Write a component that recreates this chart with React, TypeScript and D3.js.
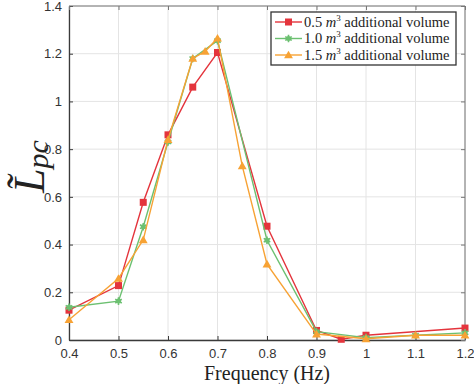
import React, { useRef, useEffect } from 'react';
import * as d3 from 'd3';

// values
const redX = [0.4, 0.5, 0.55, 0.6, 0.65, 0.7, 0.8, 0.9, 0.95, 1.0, 1.2];
const redY = [0.125, 0.228, 0.577, 0.86, 1.06, 1.205, 0.477, 0.04, 0.003, 0.02, 0.05];
const greenX = [0.4, 0.5, 0.55, 0.6, 0.65, 0.7, 0.8, 0.9, 1.0, 1.1, 1.2];
const greenY = [0.137, 0.163, 0.475, 0.83, 1.18, 1.255, 0.418, 0.035, 0.01, 0.02, 0.03];
const orangeX = [0.4, 0.5, 0.55, 0.6, 0.65, 0.675, 0.7, 0.75, 0.8, 0.9, 1.0, 1.1, 1.2];
const orangeY = [0.085, 0.258, 0.42, 0.84, 1.18, 1.21, 1.265, 0.73, 0.318, 0.025, 0.005, 0.02, 0.02];
const legendLabels = ['0.5', '1.0', '1.5'];
const xTicks = [0.4, 0.5, 0.6, 0.7, 0.8, 0.9, 1, 1.1, 1.2];
const yTicks = [0, 0.2, 0.4, 0.6, 0.8, 1, 1.2, 1.4];

const SERIF = "'Liberation Serif', 'Times New Roman', Times, serif";

const App = () => {
  const svgRef = useRef<SVGSVGElement>(null);

  useEffect(() => {
    document.body.style.margin = '0';
    const W = 474, H = 384;
    const margin = { top: 6, right: 9, bottom: 44, left: 69 };
    const width = W - margin.left - margin.right;
    const height = H - margin.top - margin.bottom;

    const svg = d3.select(svgRef.current).attr('width', W).attr('height', H);
    svg.selectAll('*').remove();
    svg.append('rect').attr('width', W).attr('height', H).attr('fill', 'white');

    const g = svg.append('g').attr('transform', `translate(${margin.left},${margin.top})`);

    const x = d3.scaleLinear().domain([0.4, 1.2]).range([0, width]);
    const y = d3.scaleLinear().domain([0, 1.4]).range([height, 0]);

    // grid
    g.selectAll('.gx').data(xTicks).enter().append('line')
      .attr('x1', d => x(d)).attr('x2', d => x(d)).attr('y1', 0).attr('y2', height)
      .attr('stroke', '#e4e4e4').attr('stroke-width', 1);
    g.selectAll('.gy').data(yTicks).enter().append('line')
      .attr('y1', d => y(d)).attr('y2', d => y(d)).attr('x1', 0).attr('x2', width)
      .attr('stroke', '#e4e4e4').attr('stroke-width', 1);

    // axes
    const xAxis = d3.axisBottom(x).tickValues(xTicks).tickSizeInner(-4).tickSizeOuter(0)
      .tickPadding(9).tickFormat(d => String(+d));
    const yAxis = d3.axisLeft(y).tickValues(yTicks).tickSizeInner(-4).tickSizeOuter(0)
      .tickPadding(7).tickFormat(d => String(+d));
    const xa = g.append('g').attr('transform', `translate(0,${height})`).call(xAxis);
    const ya = g.append('g').call(yAxis);
    [xa, ya].forEach(a => {
      a.selectAll('path').attr('stroke', '#3a3a3a').attr('stroke-width', 1.3);
      a.selectAll('line').attr('stroke', '#3a3a3a');
      a.selectAll('text').attr('fill', '#333').attr('font-size', 13)
        .attr('font-family', '"Liberation Sans", Arial, sans-serif');
    });
    // top / right border
    g.append('line').attr('x1', 0).attr('x2', width).attr('y1', 0).attr('y2', 0)
      .attr('stroke', '#777').attr('stroke-width', 1);
    g.append('line').attr('x1', width).attr('x2', width).attr('y1', 0).attr('y2', height)
      .attr('stroke', '#777').attr('stroke-width', 1);
    const topT = g.append('g').call(d3.axisTop(x).tickValues(xTicks).tickSizeInner(-4).tickSizeOuter(0).tickFormat(() => ''));
    topT.select('path').remove();
    topT.selectAll('line').attr('stroke', '#777');
    const rightT = g.append('g').attr('transform', `translate(${width},0)`)
      .call(d3.axisRight(y).tickValues(yTicks).tickSizeInner(-4).tickSizeOuter(0).tickFormat(() => ''));
    rightT.select('path').remove();
    rightT.selectAll('line').attr('stroke', '#777');

    const series = [
      { xs: redX, ys: redY, color: '#e4343c', marker: 'square' },
      { xs: greenX, ys: greenY, color: '#6cc071', marker: 'star' },
      { xs: orangeX, ys: orangeY, color: '#f7a234', marker: 'triangle' },
    ];

    const line = d3.line<[number, number]>().x(d => x(d[0])).y(d => y(d[1]));

    const drawMarker = (sel: any, kind: string, color: string, cx: number, cy: number) => {
      if (kind === 'square') {
        sel.append('rect').attr('x', cx - 3.5).attr('y', cy - 3.5).attr('width', 7).attr('height', 7)
          .attr('fill', color);
      } else if (kind === 'triangle') {
        sel.append('path').attr('d', d3.symbol(d3.symbolTriangle, 34)())
          .attr('transform', `translate(${cx},${cy + 0.8})`).attr('fill', color);
      } else {
        sel.append('path').attr('d', d3.symbol(d3.symbolAsterisk, 40)())
          .attr('transform', `translate(${cx},${cy})`).attr('fill', 'none')
          .attr('stroke', color).attr('stroke-width', 1.6);
        sel.append('circle').attr('cx', cx).attr('cy', cy).attr('r', 2.5).attr('fill', color);
      }
    };

    series.forEach(s => {
      const pts: [number, number][] = s.xs.map((v, i) => [v, s.ys[i]]);
      g.append('path').attr('d', line(pts)).attr('fill', 'none')
        .attr('stroke', s.color).attr('stroke-width', 1.4);
      const mg = g.append('g');
      pts.forEach(p => drawMarker(mg, s.marker, s.color, x(p[0]), y(p[1])));
    });

    // axis labels
    svg.append('text')
      .attr('x', margin.left + width / 2).attr('y', 380)
      .attr('text-anchor', 'middle').attr('font-size', 20).attr('fill', '#222')
      .style('font-family', SERIF)
      .text('Frequency (Hz)');

    const yl = svg.append('g').attr('transform', 'translate(44,193) rotate(-90)');
    const yt = yl.append('text').attr('fill', '#222')
      .style('font-family', SERIF).attr('font-style', 'italic');
    yt.append('tspan').attr('font-size', 44).text('L\u0303');
    yt.append('tspan').attr('font-size', 30).attr('dy', 4).text('pc');

    // legend
    const lg = svg.append('g').attr('transform', 'translate(271,12)');
    lg.append('rect').attr('width', 185).attr('height', 53).attr('fill', 'white')
      .attr('stroke', '#333').attr('stroke-width', 1.3);
    series.forEach((s, i) => {
      const cy = 10 + i * 16.5;
      lg.append('line').attr('x1', 4).attr('x2', 31).attr('y1', cy).attr('y2', cy)
        .attr('stroke', s.color).attr('stroke-width', 1.4);
      drawMarker(lg, s.marker, s.color, 17.5, cy);
      const t = lg.append('text').attr('x', 33).attr('y', cy + 4.5).attr('font-size', 14.5)
        .attr('fill', '#222').style('font-family', SERIF);
      t.append('tspan').text(legendLabels[i] + ' ');
      t.append('tspan').attr('font-style', 'italic').text('m');
      t.append('tspan').attr('font-size', 9).attr('dy', -6).text('3');
      t.append('tspan').attr('dy', 6).text(' additional volume');
    });
  }, []);

  return (
    <div style={{ width: 474, height: 384 }}>
      <svg ref={svgRef} style={{ display: 'block' }}></svg>
    </div>
  );
};

export default App;
